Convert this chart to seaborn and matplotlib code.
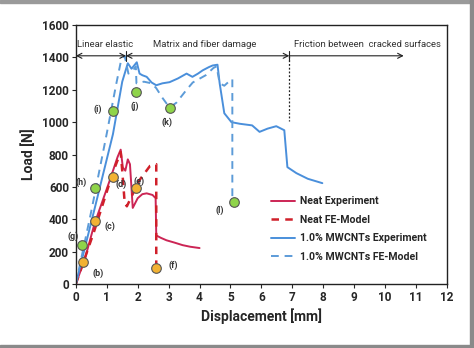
import matplotlib
matplotlib.use("Agg")
import matplotlib.pyplot as plt
import seaborn as sns
import pandas as pd
from matplotlib.patches import Rectangle

# ---------------- data ----------------
neat_exp_x = [0, 0.3, 0.6, 1.1, 1.35, 1.45, 1.52, 1.6, 1.68, 1.75, 1.84, 2.0, 2.15, 2.29, 2.48, 2.58, 2.6, 2.75, 2.93, 3.2, 3.45, 3.7, 4.0]
neat_exp_y = [0, 160, 370, 642, 785, 830, 720, 700, 770, 740, 470, 530, 555, 560, 550, 530, 300, 285, 270, 255, 240, 230, 222]

neat_fe_x = [0, 0.6, 1.2, 1.45, 1.5, 1.58, 1.65, 2.05, 2.4, 2.6, 2.6]
neat_fe_y = [0, 330, 690, 815, 700, 500, 480, 640, 730, 740, 120]

cnt_exp_x = [0, 0.6, 1.2, 1.5, 1.68, 1.8, 1.97, 2.06, 2.15, 2.29, 2.45, 2.6, 2.8, 3.03, 3.3, 3.58, 3.77, 3.95, 4.1, 4.3, 4.42, 4.58,
             4.65, 4.8, 5.03, 5.3, 5.7, 5.94, 6.2, 6.48, 6.74, 6.84, 7.13, 7.5, 7.97]
cnt_exp_y = [0, 460, 926, 1250, 1364, 1330, 1370, 1300, 1290, 1280, 1245, 1228, 1240, 1247, 1270, 1300, 1280, 1300, 1320, 1340, 1350, 1355,
             1240, 1055, 1000, 990, 980, 940, 960, 975, 950, 722, 685, 650, 623]

cnt_fe_x = [0, 0.5, 1.0, 1.3, 1.45, 1.58, 1.7, 1.85, 1.94, 1.96, 2.2, 2.45, 2.6, 2.8, 3.03, 3.25, 3.58, 3.78, 4.2, 4.45, 4.55, 4.65, 4.8, 5.03, 5.06, 5.06]
cnt_fe_y = [0, 450, 930, 1230, 1370, 1410, 1300, 1320, 1345, 1240, 1250, 1240, 1210, 1150, 1090, 1120, 1200, 1245, 1290, 1335, 1345, 1240, 1225, 1265, 1265, 510]

orange_labels = ["(b)", "(c)", "(d)", "(e)", "(f)"]
orange_x = [0.23, 0.61, 1.19, 1.94, 2.58]
orange_y = [136, 388, 660, 593, 99]

green_labels = ["(g)", "(h)", "(i)", "(j)", "(k)", "(l)"]
green_x = [0.19, 0.61, 1.19, 1.94, 3.03, 5.1]
green_y = [240, 593, 1068, 1185, 1086, 506]

x_ticks = list(range(0, 13))
y_ticks = list(range(0, 1601, 200))

series_names = ["Neat Experiment", "Neat FE-Model", "1.0% MWCNTs Experiment", "1.0% MWCNTs FE-Model"]

# ---------------- plot ----------------
sns.set_style("ticks")
plt.rcParams['font.family'] = ['Roboto', 'DejaVu Sans']

fig = plt.figure(figsize=(4.74, 3.48), dpi=100)
ax = fig.add_axes([0.160, 0.184, 0.783, 0.744])

red_solid = "#cc2555"
red_dash = "#d0202a"
blue_solid = "#4a8fdb"
blue_dash = "#5c9bd8"

common = dict(sort=False, estimator=None, errorbar=None, ax=ax)
sns.lineplot(x=neat_exp_x, y=neat_exp_y, color=red_solid, lw=1.4, label=series_names[0], **common)
sns.lineplot(x=neat_fe_x, y=neat_fe_y, color=red_dash, lw=1.8, label=series_names[1],
             linestyle=(0, (3, 2.5)), **common)
sns.lineplot(x=cnt_exp_x, y=cnt_exp_y, color=blue_solid, lw=1.4, label=series_names[2], **common)
sns.lineplot(x=cnt_fe_x, y=cnt_fe_y, color=blue_dash, lw=1.4, label=series_names[3],
             linestyle=(0, (4, 3)), **common)

sns.scatterplot(x=orange_x, y=orange_y, ax=ax, color="#f2b233", edgecolor="#555555", s=48, linewidth=0.8, zorder=5, legend=False)
sns.scatterplot(x=green_x, y=green_y, ax=ax, color="#8fd44a", edgecolor="#555555", s=48, linewidth=0.8, zorder=5, legend=False)

lab_kw = dict(fontsize=6.4, fontweight="bold", color="#333333")
offsets = {"(b)": (7, -8), "(c)": (7, -4), "(d)": (2, -5), "(e)": (-2, 5), "(f)": (9, 2),
           "(g)": (-10, 6), "(h)": (-14, 4), "(i)": (-14, 1), "(j)": (-4, -10), "(k)": (-6, -10), "(l)": (-13, -6)}
for lab, x, y in zip(orange_labels + green_labels, orange_x + green_x, orange_y + green_y):
    dx, dy = offsets[lab]
    ax.annotate(lab, (x, y), xytext=(dx, dy), textcoords="offset points", ha="left", va="center", **lab_kw)

# phase annotations
yl = 1410
ak = dict(arrowstyle="<->,head_length=0.35,head_width=0.18", color="#222222", lw=0.8, shrinkA=0, shrinkB=0)
ax.annotate("", xy=(0, yl), xytext=(1.62, yl), arrowprops=ak)
ax.annotate("", xy=(1.62, yl), xytext=(6.9, yl), arrowprops=ak)
ax.annotate("", xy=(6.9, yl), xytext=(10.6, yl),
            arrowprops=dict(arrowstyle="<-,head_length=0.35,head_width=0.18", color="#222222", lw=0.8, shrinkA=0, shrinkB=0))
ax.plot([1.62, 1.62], [yl - 30, yl + 30], color="#222222", lw=0.8)
ax.plot([6.9, 6.9], [yl - 30, yl + 30], color="#222222", lw=0.8)
ax.plot([6.9, 6.9], [yl, 1010], color="#222222", lw=0.9, linestyle=(0, (1.5, 1.5)))

tk = dict(fontsize=6.8, color="#333333")
ax.text(0.03, 1480, "Linear elastic", ha="left", va="center", **tk)
ax.text(4.15, 1480, "Matrix and fiber damage", ha="center", va="center", **tk)
ax.text(7.05, 1480, "Friction between  cracked surfaces", ha="left", va="center", **tk)

ax.set_xlim(0, 12)
ax.set_ylim(0, 1600)
ax.set_xticks(x_ticks)
ax.set_yticks(y_ticks)
ax.set_xticklabels([str(v) for v in x_ticks], fontsize=8.5, fontweight="bold")
ax.set_yticklabels([str(v) for v in y_ticks], fontsize=8.5, fontweight="bold")
ax.tick_params(direction="out", length=3, width=0.8, pad=2)
ax.set_xlabel("Displacement [mm]", fontsize=10, fontweight="bold", labelpad=3)
ax.set_ylabel("Load [N]", fontsize=10, fontweight="bold", labelpad=4)
for s in ax.spines.values():
    s.set_color("#222222")
    s.set_linewidth(1.0)

leg = ax.legend(loc="upper left", bbox_to_anchor=(0.50, 0.375), frameon=False,
                prop=dict(size=7.6, weight="bold"), handlelength=2.3, labelspacing=0.8, handletextpad=0.5)

# grey border of the picture
fig.patches.append(Rectangle((0, 1 - 3 / 348), 1, 3 / 348, transform=fig.transFigure, color="#9a9a9a", zorder=0))
fig.patches.append(Rectangle((1 - 4 / 474, 0), 4 / 474, 1, transform=fig.transFigure, color="#8a8a8a", zorder=0))
fig.patches.append(Rectangle((0, 0), 1, 3 / 348, transform=fig.transFigure, color="#8a8a8a", zorder=0))

fig.savefig("out.png", dpi=100)
